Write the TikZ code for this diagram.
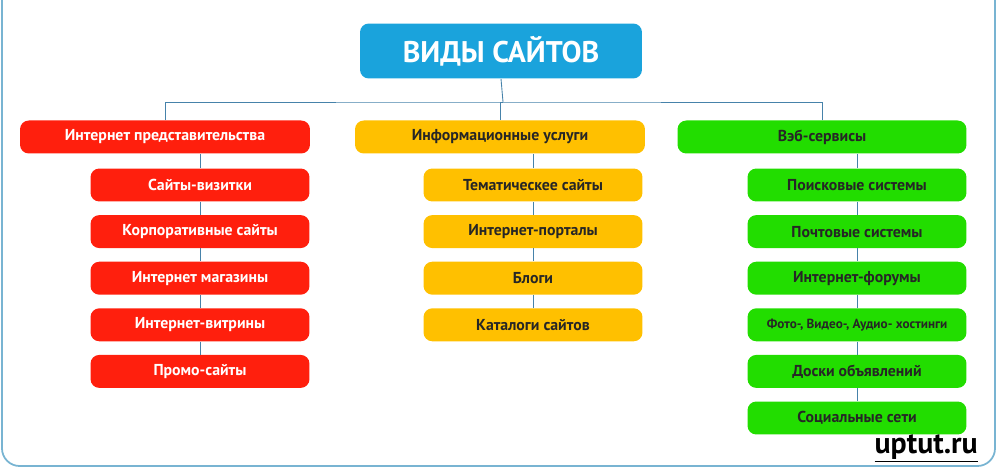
\documentclass[tikz,border=0pt]{standalone}
\usepackage{fontspec}
\setmainfont{PT Sans}
\begin{document}
\begin{tikzpicture}[x=0.02cm,y=-0.02cm,
  box/.style={rounded corners=5pt,minimum height=0.66cm,inner sep=0pt,font=\bfseries\fontsize{9}{10}\selectfont},
  redb/.style={box,fill=red!85!orange!95!white,text=white},
  yelb/.style={box,fill={rgb,255:red,255;green,192;blue,0},text=black!85},
  grnb/.style={box,fill={rgb,255:red,34;green,221;blue,0},text=black!85},
  ln/.style={draw={rgb,255:red,70;green,130;blue,170},line width=0.5pt}]
\useasboundingbox (0,0) rectangle (1000,469);
\draw[draw={rgb,255:red,120;green,180;blue,210},line width=1pt,rounded corners=10pt] (2,-20) -- (2,466) -- (995,466) -- (995,-20);
\node[box,fill={rgb,255:red,26;green,163;blue,220},text=white,minimum width=5.64cm,minimum height=1.1cm,font=\bfseries\fontsize{17}{20}\selectfont] (title) at (501,51) {ВИДЫ САЙТОВ};
\node[redb,minimum width=5.8cm] (r0) at (165,137) {Интернет представительства};
\node[yelb,minimum width=5.8cm] (y0) at (500,137) {Информационные услуги};
\node[grnb,minimum width=5.78cm] (g0) at (822,137) {Вэб-сервисы};
\coordinate (hub) at (503,102);
\draw[ln] (title.south) -- (hub);
\draw[ln] (r0.north) |- (hub) -| (g0.north);
\draw[ln] (hub) -| (y0.north);
\foreach \t [count=\i] in {Сайты-визитки,Корпоративные сайты,Интернет магазины,Интернет-витрины,Промо-сайты}{
  \node[redb,minimum width=4.38cm] (r\i) at (200,{185+46.6*(\i-1)}) {\t};}
\foreach \t [count=\i] in {Тематическее сайты,Интернет-порталы,Блоги,Каталоги сайтов}{
  \node[yelb,minimum width=4.38cm] (y\i) at (533,{185+46.6*(\i-1)}) {\t};}
\foreach \t [count=\i] in {Поисковые системы,Почтовые системы,Интернет-форумы,{\fontsize{7.5}{9}\selectfont Фото-,\ Видео-, Аудио- хостинги},Доски объявлений,Социальные сети}{
  \node[grnb,minimum width=4.38cm] (g\i) at (857,{185+46.6*(\i-1)}) {\t};}
\foreach \a/\b in {r1/r2,r2/r3,r3/r4,r4/r5,y1/y2,y2/y3,y3/y4,g1/g2,g2/g3,g3/g4,g4/g5,g5/g6}{\draw[ln] (\a.south) -- (\b.north);}
\draw[ln] (r0.south -| r1.north) -- (r1.north);
\draw[ln] (y0.south -| y1.north) -- (y1.north);
\draw[ln] (g0.south -| g1.north) -- (g1.north);
\node[font=\bfseries\fontsize{17}{19}\selectfont,anchor=south east,inner sep=0pt] (site) at (978,463) {\underline{uptut.ru}};
\end{tikzpicture}
\end{document}
